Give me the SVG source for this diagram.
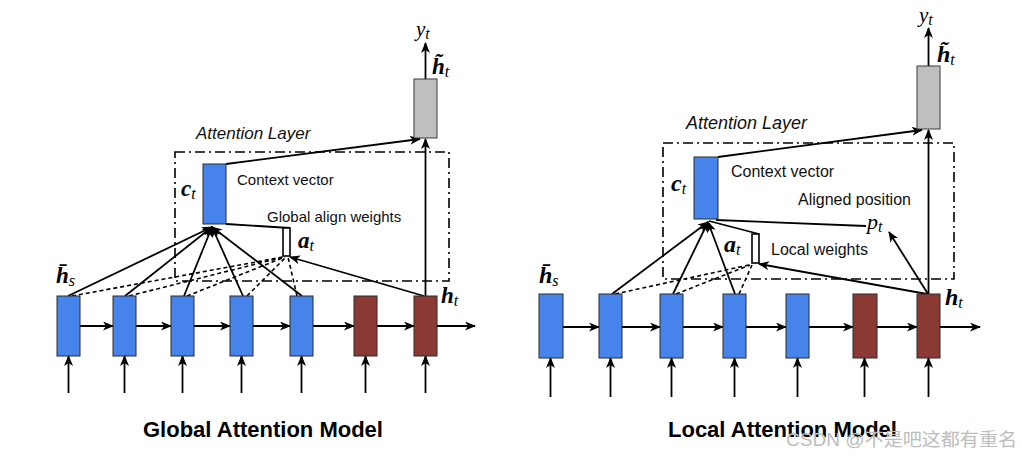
<svg xmlns="http://www.w3.org/2000/svg" width="1021" height="459" viewBox="0 0 1021 459">
<style>
.bg{fill:#fff}
.blue{fill:#4684EC;stroke:#2b2b2b;stroke-width:1}
.red{fill:#8B3934;stroke:#2b2b2b;stroke-width:1}
.gray{fill:#BFBFBF;stroke:#3a3a3a;stroke-width:1}
.vec{fill:#fff;stroke:#000;stroke-width:1.6}
.ln{stroke:#000;stroke-width:1.8;fill:none}
.arr{stroke:#000;stroke-width:1.8;fill:none;marker-end:url(#ah)}
.dash{stroke:#000;stroke-width:1.6;fill:none;stroke-dasharray:4 3}
.dd{stroke:#000;stroke-width:1.6;fill:none;stroke-dasharray:10 4 2 4}
.lbl{font-family:"Liberation Sans",Arial,sans-serif;fill:#111}
.it{font-family:"Liberation Sans",Arial,sans-serif;font-style:italic;fill:#111}
.title{font-family:"Liberation Sans",Arial,sans-serif;font-weight:bold;font-size:22px;fill:#000}
.m{font-family:"Liberation Serif","Times New Roman",serif;fill:#000}
.mb{font-weight:bold;font-style:italic}
.mi{font-style:italic}
.sub{font-style:italic;font-size:16px}
.wm{font-family:"Liberation Sans","Noto Sans CJK SC",sans-serif;font-size:18px;fill:#bdbdbd}
</style>
<defs>
<marker id="ah" markerUnits="userSpaceOnUse" markerWidth="11" markerHeight="9" refX="10" refY="4.5" orient="auto">
<path d="M0,0 L11,4.5 L0,9 L3,4.5 z" fill="#000"/>
</marker>
</defs>
<rect class="bg" x="0" y="0" width="1021" height="459"/>

<!-- ===== LEFT: Global ===== -->
<g id="connectors-global">
<rect class="dd" x="175" y="152" width="274" height="129"/>
<line class="arr" x1="79" y1="326" x2="113" y2="326"/>
<line class="arr" x1="136" y1="326" x2="171" y2="326"/>
<line class="arr" x1="194" y1="326" x2="230" y2="326"/>
<line class="arr" x1="253" y1="326" x2="290" y2="326"/>
<line class="arr" x1="313" y1="326" x2="354" y2="326"/>
<line class="arr" x1="377" y1="326" x2="414" y2="326"/>
<line class="arr" x1="437" y1="326" x2="475" y2="326"/>
<line class="arr" x1="68.5" y1="393" x2="68.5" y2="356"/>
<line class="arr" x1="124.5" y1="393" x2="124.5" y2="356"/>
<line class="arr" x1="182.5" y1="393" x2="182.5" y2="356"/>
<line class="arr" x1="241.5" y1="393" x2="241.5" y2="356"/>
<line class="arr" x1="301.5" y1="393" x2="301.5" y2="356"/>
<line class="arr" x1="365.5" y1="393" x2="365.5" y2="356"/>
<line class="arr" x1="425.5" y1="393" x2="425.5" y2="356"/>
<line class="arr" x1="425.5" y1="79" x2="425.5" y2="43"/>
<line class="arr" x1="425.5" y1="296" x2="425.5" y2="139"/>
<line class="arr" x1="226" y1="164" x2="420" y2="139"/>
<line class="arr" x1="68" y1="296" x2="212" y2="227"/>
<line class="arr" x1="125" y1="296" x2="212" y2="227"/>
<line class="arr" x1="184" y1="296" x2="212" y2="227"/>
<line class="arr" x1="243" y1="296" x2="212" y2="227"/>
<line class="arr" x1="302" y1="296" x2="212" y2="227"/>
<polyline class="ln" points="226,224 290,228"/>
<line class="dash" x1="72" y1="296" x2="283" y2="257"/>
<line class="dash" x1="129" y1="296" x2="284" y2="257"/>
<line class="dash" x1="187" y1="296" x2="285" y2="257"/>
<line class="dash" x1="247" y1="296" x2="286" y2="257"/>
<line class="dash" x1="297" y1="296" x2="288" y2="257"/>
<line class="arr" x1="424" y1="296" x2="290" y2="257"/>
</g>

<g id="g-at">
<rect class="vec" x="283" y="228" width="7" height="28"/>
<text class="m" x="298" y="248" font-size="23"><tspan class="mb">a</tspan><tspan class="sub" dy="3">t</tspan></text>
</g>
<g id="g-ct">
<rect class="blue" x="203" y="164" width="23" height="60"/>
<text class="m" x="181" y="196" font-size="23"><tspan class="mb">c</tspan><tspan class="sub" dy="3">t</tspan></text>
</g>
<g id="g-hs1"><rect class="blue" x="57" y="296" width="23" height="60"/>
<text class="m" x="56" y="283" font-size="23"><tspan class="mb">h&#x0304;</tspan><tspan class="sub" dy="3">s</tspan></text></g>
<g id="g-h2"><rect class="blue" x="113" y="296" width="23" height="60"/></g>
<g id="g-h3"><rect class="blue" x="171" y="296" width="23" height="60"/></g>
<g id="g-h4"><rect class="blue" x="230" y="296" width="23" height="60"/></g>
<g id="g-h5"><rect class="blue" x="290" y="296" width="23" height="60"/></g>
<g id="g-h6"><rect class="red" x="354" y="296" width="23" height="60"/></g>
<g id="g-ht"><rect class="red" x="414" y="296" width="23" height="60"/>
<text class="m" x="441" y="303" font-size="23"><tspan class="mb">h</tspan><tspan class="sub" dy="3">t</tspan></text></g>
<g id="g-htilde"><rect class="gray" x="414" y="79" width="23" height="59"/>
<text class="m" x="432" y="74" font-size="23"><tspan class="mb">h&#x0303;</tspan><tspan class="sub" dy="3">t</tspan></text></g>
<g id="g-yt"><text class="m" x="416" y="36" font-size="21"><tspan class="mi">y</tspan><tspan class="sub" dy="3">t</tspan></text></g>
<g id="g-labels-global">
<text class="it" x="196" y="139" font-size="17">Attention Layer</text>
<text class="lbl" x="237" y="185" font-size="15">Context vector</text>
<text class="lbl" x="267" y="222" font-size="15">Global align weights</text>
<text class="title" x="143" y="437">Global Attention Model</text>
</g>

<!-- ===== RIGHT: Local ===== -->
<g id="connectors-local">
<rect class="dd" x="663" y="143" width="291" height="136"/>
<line class="arr" x1="563" y1="327" x2="599" y2="327"/>
<line class="arr" x1="622" y1="327" x2="660" y2="327"/>
<line class="arr" x1="683" y1="327" x2="723" y2="327"/>
<line class="arr" x1="746" y1="327" x2="786" y2="327"/>
<line class="arr" x1="809" y1="327" x2="853" y2="327"/>
<line class="arr" x1="877" y1="327" x2="917" y2="327"/>
<line class="arr" x1="940" y1="327" x2="980" y2="327"/>
<line class="arr" x1="550.5" y1="397" x2="550.5" y2="358"/>
<line class="arr" x1="610.5" y1="397" x2="610.5" y2="358"/>
<line class="arr" x1="671.5" y1="397" x2="671.5" y2="358"/>
<line class="arr" x1="734.5" y1="397" x2="734.5" y2="358"/>
<line class="arr" x1="797.5" y1="397" x2="797.5" y2="358"/>
<line class="arr" x1="864.5" y1="397" x2="864.5" y2="358"/>
<line class="arr" x1="928.5" y1="397" x2="928.5" y2="358"/>
<line class="arr" x1="928.5" y1="66" x2="928.5" y2="28"/>
<line class="arr" x1="928.5" y1="294" x2="928.5" y2="130"/>
<line class="arr" x1="718" y1="157" x2="922" y2="130"/>
<line class="arr" x1="612" y1="294" x2="708" y2="222"/>
<line class="arr" x1="673" y1="294" x2="708" y2="222"/>
<line class="arr" x1="735" y1="294" x2="708" y2="222"/>
<line class="ln" x1="866" y1="226" x2="716" y2="220"/>
<line class="ln" x1="709" y1="221" x2="759" y2="234"/>
<line class="dash" x1="615" y1="294" x2="749" y2="265"/>
<line class="dash" x1="676" y1="294" x2="750" y2="265"/>
<line class="dash" x1="739" y1="294" x2="752" y2="265"/>
<line class="arr" x1="927" y1="294" x2="759" y2="264"/>
<line class="arr" x1="928" y1="294" x2="889" y2="232"/>
</g>

<g id="l-at">
<rect class="vec" x="752" y="234" width="7" height="29"/>
<text class="m" x="724" y="252" font-size="24"><tspan class="mb">a</tspan><tspan class="sub" dy="3">t</tspan></text>
</g>
<g id="l-ct">
<rect class="blue" x="694" y="157" width="24" height="62"/>
<text class="m" x="671" y="191" font-size="24"><tspan class="mb">c</tspan><tspan class="sub" dy="3">t</tspan></text>
</g>
<g id="l-hs1"><rect class="blue" x="539" y="294" width="24" height="64"/>
<text class="m" x="539" y="283" font-size="24"><tspan class="mb">h&#x0304;</tspan><tspan class="sub" dy="3">s</tspan></text></g>
<g id="l-h2"><rect class="blue" x="599" y="294" width="23" height="64"/></g>
<g id="l-h3"><rect class="blue" x="660" y="294" width="23" height="64"/></g>
<g id="l-h4"><rect class="blue" x="723" y="294" width="23" height="64"/></g>
<g id="l-h5"><rect class="blue" x="786" y="294" width="23" height="64"/></g>
<g id="l-h6"><rect class="red" x="853" y="294" width="24" height="64"/></g>
<g id="l-ht"><rect class="red" x="917" y="294" width="23" height="64"/>
<text class="m" x="945" y="305" font-size="24"><tspan class="mb">h</tspan><tspan class="sub" dy="3">t</tspan></text></g>
<g id="l-htilde"><rect class="gray" x="917" y="66" width="23" height="63"/>
<text class="m" x="937" y="62" font-size="24"><tspan class="mb">h&#x0303;</tspan><tspan class="sub" dy="3">t</tspan></text></g>
<g id="l-yt"><text class="m" x="919" y="22" font-size="21"><tspan class="mi">y</tspan><tspan class="sub" dy="3">t</tspan></text></g>
<g id="l-pt"><text class="m" x="867" y="229" font-size="22"><tspan class="mi">p</tspan><tspan class="sub" dy="3">t</tspan></text></g>
<g id="l-labels">
<text class="it" x="686" y="129" font-size="18">Attention Layer</text>
<text class="lbl" x="731" y="177" font-size="16">Context vector</text>
<text class="lbl" x="798" y="205" font-size="16">Aligned position</text>
<text class="lbl" x="771" y="255" font-size="16">Local weights</text>
<text class="title" x="668" y="437">Local Attention Model</text>
</g>
<text class="wm" x="786" y="446" textLength="231" lengthAdjust="spacingAndGlyphs">CSDN @不是吧这都有重名</text>
</svg>
